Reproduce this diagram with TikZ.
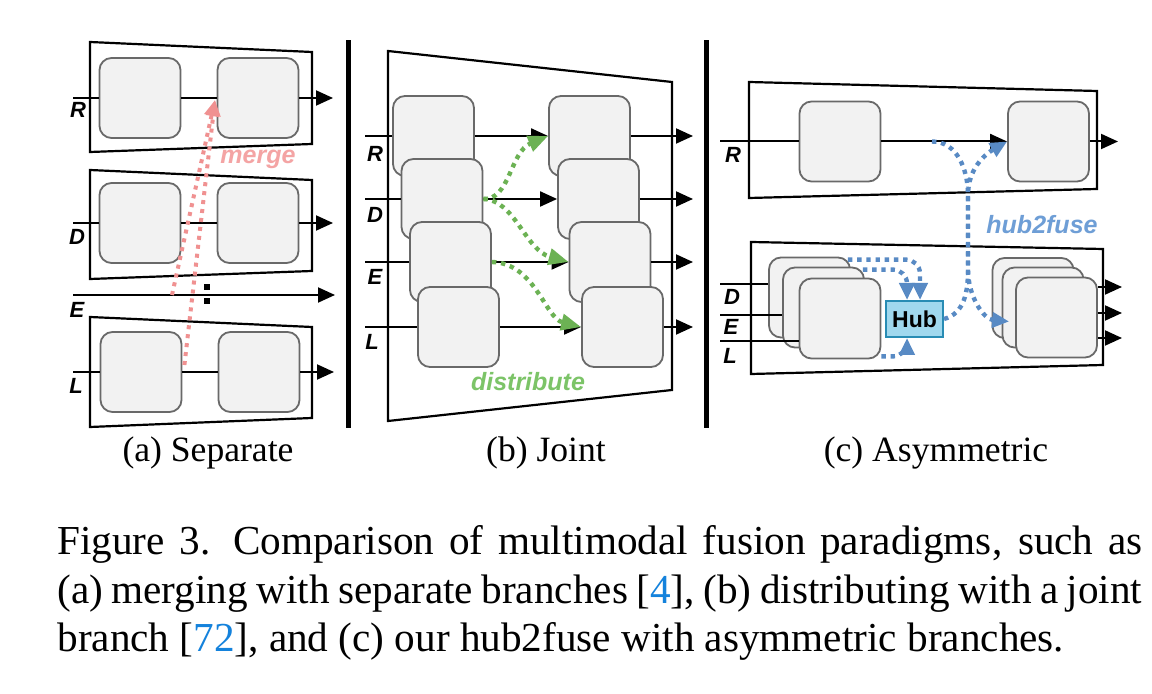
\documentclass[tikz,border=0pt]{standalone}
\usepackage{fontspec}
\setmainfont{Liberation Serif}
\setsansfont{Liberation Sans}
\usetikzlibrary{arrows.meta,calc}
\definecolor{boxgray}{RGB}{242,242,242}
\definecolor{boxedge}{RGB}{105,105,105}
\definecolor{pinkdot}{RGB}{240,145,145}
\definecolor{pinktext}{RGB}{244,164,164}
\definecolor{greendot}{RGB}{108,178,84}
\definecolor{greentext}{RGB}{124,196,104}
\definecolor{bluedot}{RGB}{88,138,196}
\definecolor{bluetext}{RGB}{110,158,214}
\definecolor{hubfill}{RGB}{160,216,238}
\definecolor{hubedge}{RGB}{40,140,180}
\definecolor{citeblue}{RGB}{20,130,220}
\begin{document}
\begin{tikzpicture}[x=0.5pt,y=-0.5pt,
 trap/.style={draw=black,line width=1.1pt,line join=miter},
 blk/.style={draw=boxedge,fill=boxgray,line width=0.9pt,rounded corners=6pt,minimum width=40.5pt,minimum height=40pt,inner sep=0pt},
 flow/.style={draw=black,line width=1pt,-{Triangle[length=8.5pt,width=7.5pt]}},
 feed/.style={draw=black,line width=1pt},
 lab/.style={font=\sffamily\bfseries\itshape\fontsize{11}{13}\selectfont,inner sep=0pt},
 biglab/.style={font=\sffamily\bfseries\itshape\fontsize{12.5}{14}\selectfont,inner sep=0pt},
 subcap/.style={font=\fontsize{17.8}{20}\selectfont,inner sep=0pt,anchor=base},
 captext/.style={font=\fontsize{20.6}{24}\selectfont,inner sep=0pt,anchor=base west},
 mergearr/.style={draw=pinkdot,line width=2pt,dash pattern=on 2pt off 2.5pt,-{Triangle[length=8pt,width=7pt]}},
 distr/.style={draw=greendot,line width=2.2pt,dash pattern=on 2.2pt off 2.4pt,-{Triangle[length=10pt,width=8pt]}},
 hubarr/.style={draw=bluedot,line width=2.2pt,dash pattern=on 2.2pt off 2.4pt,-{Triangle[length=8.5pt,width=7.5pt]}},
]
\fill[white] (0,0) rectangle (1152,694);
\useasboundingbox (0,0) rectangle (1152,694);

% ---------------- (a) Separate ----------------
\draw[trap] (90,42) -- (312,52) -- (312,144) -- (90,152) -- cycle;
\draw[trap] (90,170) -- (312,180) -- (312,271) -- (90,279) -- cycle;
\draw[trap] (90,317) -- (312,327) -- (312,418) -- (90,427) -- cycle;
\node[blk] (aR1) at (140,98) {};
\node[blk] (aR2) at (258,98) {};
\node[blk] (aD1) at (140,223) {};
\node[blk] (aD2) at (258,223) {};
\node[blk] (aL1) at (141,372) {};
\node[blk] (aL2) at (259,372) {};
\coordinate (aRin) at (73,98);   \coordinate (aRout) at (333,98);
\coordinate (aDin) at (73,223);  \coordinate (aDout) at (333,223);
\coordinate (aEin) at (73,295);  \coordinate (aEout) at (335,295);
\coordinate (aLin) at (73,372);  \coordinate (aLout) at (334,372);
\draw[feed] (aRin) -- (aR1.west);
\draw[feed] (aR1.east) -- (aR2.west);
\draw[flow] (aR2.east) -- (aRout);
\draw[feed] (aDin) -- (aD1.west);
\draw[feed] (aD1.east) -- (aD2.west);
\draw[flow] (aD2.east) -- (aDout);
\draw[flow] (aEin) -- (aEout);
\draw[feed] (aLin) -- (aL1.west);
\draw[feed] (aL1.east) -- (aL2.west);
\draw[flow] (aL2.east) -- (aLout);
\node[lab] (aRlab) at (78,110) {R};
\node[lab] (aDlab) at (77,237) {D};
\node[lab] (aElab) at (77,310) {E};
\node[lab] (aLlab) at (76,386) {L};
\fill (204,284) rectangle (210,290);
\fill (204,298) rectangle (210,304);
\coordinate (mE) at (172,295);
\coordinate (mtip) at (215,100);
\draw[mergearr] (mE) -- (mtip);
\draw[mergearr] ($(aL1.east)+(2,-7)$) -- (mtip);
\node[biglab,text=pinktext] (mergelab) at (258,159) {merge};
\node[subcap] (suba) at (208,462) {(a) Separate};

% separators
\fill (346,40) rectangle (351,428);
\fill (704,40) rectangle (709,428);

% ---------------- (b) Joint ----------------
\draw[trap] (388,51) -- (672,82) -- (672,390) -- (388,421) -- cycle;
\node[blk] (bR1) at (433.5,136) {};
\node[blk] (bD1) at (442,199) {};
\node[blk] (bE1) at (450.5,262) {};
\node[blk] (bL1) at (458.5,327) {};
\node[blk] (bR2) at (589.5,136) {};
\node[blk] (bD2) at (598.5,199) {};
\node[blk] (bE2) at (610,262) {};
\node[blk] (bL2) at (622.5,327) {};
\coordinate (bRin) at (365,136); \coordinate (bRout) at (693,136);
\coordinate (bDin) at (365,199); \coordinate (bDout) at (693,199);
\coordinate (bEin) at (365,262); \coordinate (bEout) at (693,262);
\coordinate (bLin) at (365,327); \coordinate (bLout) at (693,327);
\draw[feed] (bRin) -- (bR1.west);
\draw[feed] (bDin) -- (bD1.west);
\draw[feed] (bEin) -- (bE1.west);
\draw[feed] (bLin) -- (bL1.west);
\draw[flow] (bR1.east) -- (bR2.west);
\draw[flow] (bD1.east) -- (bD2.west);
\draw[flow] (bE1.east) -- (bE2.west);
\draw[flow] (bL1.east) -- (bL2.west);
\draw[flow] (bR2.east) -- (bRout);
\draw[flow] (bD2.east) -- (bDout);
\draw[flow] (bE2.east) -- (bEout);
\draw[flow] (bL2.east) -- (bLout);
\node[lab] (bRlab) at (375,154) {R};
\node[lab] (bDlab) at (375,215) {D};
\node[lab] (bElab) at (375,277) {E};
\node[lab] (bLlab) at (372,342) {L};
\draw[distr] (bD1.east) .. controls (510,200) and (510,152) .. (bR2.west);
\draw[distr] (bD1.east) .. controls (515,200) and (525,250) .. (bE2.west);
\draw[distr] (bE1.east) .. controls (535,263) and (545,318) .. (bL2.west);
\node[biglab,text=greentext] (distlab) at (528,382) {distribute};
\node[subcap] (subb) at (546,462) {(b) Joint};

% ---------------- (c) Asymmetric ----------------
\draw[trap] (749,82) -- (1097,91) -- (1097,189) -- (749,198) -- cycle;
\draw[trap] (751,242) -- (1103,249) -- (1103,365) -- (751,374) -- cycle;
\node[blk] (cR1) at (840,141.5) {};
\node[blk] (cR2) at (1048.5,141.5) {};
\coordinate (cRin) at (720,141.5); \coordinate (cRout) at (1118,141.5);
\draw[feed] (cRin) -- (cR1.west);
\draw[flow] (cR1.east) -- (cR2.west);
\draw[flow] (cR2.east) -- (cRout);
\node[lab] (cRlab) at (733,155) {R};

\node[blk] (cB1) at (809.5,297.5) {};
\node[blk] (cB2) at (823.5,307.5) {};
\node[blk] (cB3) at (840,318.5) {};
\node[blk] (cC1) at (1033,298) {};
\node[blk] (cC2) at (1043,307.5) {};
\node[blk] (cC3) at (1056.5,317.5) {};
\coordinate (cDin) at (720,284);
\coordinate (cEin) at (720,315);
\coordinate (cLin) at (720,341);
\draw[feed] (cDin) -- (cDin -| cB1.west);
\draw[feed] (cEin) -- (cEin -| cB2.west);
\draw[feed] (cLin) -- (cLin -| cB3.west);
\coordinate (cO1) at (1122,287);
\coordinate (cO2) at (1122,313);
\coordinate (cO3) at (1122,338);
\draw[flow] (cO1 -| cC3.east) -- (cO1);
\draw[flow] (cO2 -| cC3.east) -- (cO2);
\draw[flow] (cO3 -| cC3.east) -- (cO3);
\node[lab] (cDlab) at (732,297) {D};
\node[lab] (cElab) at (731,327) {E};
\node[lab] (cLlab) at (730,356) {L};

\node[draw=hubedge,fill=hubfill,line width=1pt,minimum width=28.5pt,minimum height=18pt,inner sep=0pt,
      font=\sffamily\bfseries\fontsize{11.5}{13}\selectfont] (hub) at (914.5,319) {Hub};
\draw[hubarr,rounded corners=7pt] ($(cB1.north east)+(-3,3)$) -| ($(hub.north)+(5.5,0)$);
\draw[hubarr,rounded corners=7pt] ($(cB2.north east)+(-2,3)$) -| ($(hub.north)+(-7.5,0)$);
\draw[hubarr,rounded corners=7pt] ($(cB3.south east)+(0,-3)$) -| ($(hub.south)+(-7.5,0)$);
\coordinate (cRtap) at (932,141.5);
\coordinate (cCin) at ($(cC3.west)+(-6,4)$);
\draw[hubarr] (hub.east) to[out=15,in=-90] (968,270) -- (968,195) to[out=90,in=210] (cR2.west);
\draw[hubarr] (cRtap) to[out=0,in=90] (968,195) -- (968,270) to[out=-90,in=175] (cCin);
\node[biglab,text=bluetext] (hublab) at (1042,225) {hub2fuse};
\node[subcap] (subc) at (936,462) {(c) Asymmetric};

% ---------------- caption ----------------
\node[captext] (cap1) at (57,555) {\makebox[542.5pt][s]{Figure 3.\hspace{0.55em}Comparison of multimodal fusion paradigms, such as}};
\node[captext] (cap2) at (57,604) {\makebox[542.5pt][s]{(a) merging with separate branches [{\color{citeblue}4}], (b) distributing with a joint}};
\node[captext] (cap3) at (57,652) {branch [{\color{citeblue}72}], and (c) our hub2fuse with asymmetric branches.};
\end{tikzpicture}
\end{document}
